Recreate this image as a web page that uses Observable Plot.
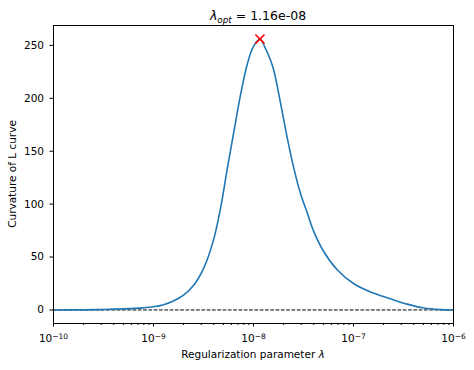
<!DOCTYPE html>
<html>
<head>
<meta charset="utf-8">
<script src="https://cdn.jsdelivr.net/npm/d3@7"></script>
<script src="https://cdn.jsdelivr.net/npm/@observablehq/plot@0.6"></script>
<style>
  html, body { margin: 0; padding: 0; background: #fff; }
  #chart svg { display: block; }
</style>
</head>
<body>
<div id="chart"></div>
<script>
// Regularization parameter λ
const lambdaValues = [1e-10, 2.0e-10, 3.16e-10, 5.0e-10, 7.9e-10, 1e-9, 1.26e-9, 1.58e-9,
  2.0e-9, 2.51e-9, 3.16e-9, 3.98e-9, 4.68e-9, 5.46e-9, 6.35e-9, 7.41e-9, 8.65e-9, 1e-8,
  1.16e-8, 1.32e-8, 1.48e-8, 1.6e-8, 1.86e-8, 2.17e-8, 2.53e-8, 2.95e-8, 3.44e-8, 4.01e-8,
  5.05e-8, 6.87e-8, 1e-7, 1.48e-7, 2.34e-7, 3.44e-7, 5.05e-7, 7.41e-7, 1e-6];
// Curvature of the L curve
const curvatureValues = [0, 0.1, 0.4, 1.0, 2.0, 3.0, 5, 8.5,
  14, 23, 39, 66, 96, 133, 168, 203, 232, 249,
  256, 247, 236, 226, 196, 163, 134, 110, 92, 74,
  55, 38, 25, 17, 10.5, 5.5, 1.8, 0.3, 0];
// optimum
const lambdaOpt = [1.16e-8];
const curvatureOpt = [256];
const titleValue = "1.16e-08";
// ticks
const xMajorTicks = [1e-10, 1e-9, 1e-8, 1e-7, 1e-6];
const xTickBase = "10";
const xTickExponents = ["−10", "−9", "−8", "−7", "−6"];
const yTicks = [0, 50, 100, 150, 200, 250];
const xLabel = "Regularization parameter ";
const yLabel = "Curvature of L curve";

const data = lambdaValues.map((l, i) => ({lambda: l, k: curvatureValues[i]}));
const opt = lambdaOpt.map((l, i) => ({lambda: l, k: curvatureOpt[i]}));
const xMinorTicks = [];
for (let d = -10; d < -6; d++) for (let m = 2; m <= 9; m++) xMinorTicks.push(m * Math.pow(10, d));

const chart = Plot.plot({
  width: 474, height: 370,
  marginLeft: 53, marginRight: 21, marginTop: 25, marginBottom: 47,
  style: {fontFamily: "'DejaVu Sans', sans-serif", fontSize: "10px", color: "#000", background: "#fff"},
  x: {type: "log", domain: [1e-10, 1e-6]},
  y: {domain: [-12.8, 268.8]},
  marks: [
    Plot.ruleY([0], {stroke: "#000", strokeWidth: 1, strokeDasharray: "3.7,1.6"}),
    Plot.line(data, {x: "lambda", y: "k", stroke: "#1f77b4", strokeWidth: 1.6, curve: "catmull-rom"}),
    Plot.dot(opt, {x: "lambda", y: "k", symbol: "times", stroke: "#ff0000", strokeWidth: 1.6, r: 4.2}),
    Plot.axisX({ticks: xMinorTicks, tickSize: 2, tickFormat: () => "", label: null, stroke: "#000", strokeOpacity: 1}),
    Plot.axisX({ticks: xMajorTicks, tickSize: 3.5, tickPadding: 8, label: null, stroke: "#000", strokeOpacity: 1,
      tickFormat: () => xTickBase, fontSize: 10.5}),
    Plot.axisY({ticks: yTicks, tickSize: 3.5, tickPadding: 6, label: null, stroke: "#000", strokeOpacity: 1, fontSize: 10.5}),
    Plot.frame({stroke: "#000", strokeWidth: 1})
  ]
});
document.getElementById("chart").appendChild(chart);

const svg = d3.select(chart);
// superscript exponents on x tick labels
svg.selectAll('g[aria-label="x-axis tick label"] text')
  .filter(function() { return this.textContent === xTickBase; })
  .each(function(d, i) {
    d3.select(this).append("tspan")
      .attr("font-size", 7.5).attr("dy", "-0.45em")
      .text(xTickExponents[i]);
  });

// title: three pieces placed side by side, centred near the axes' centre
const titleG = svg.append("g").attr("aria-label", "title");
const parts = [
  {text: "λ", size: 12.5, italic: true, dy: 0},
  {text: "opt", size: 8.8, italic: true, dy: 2.6},
  {text: " = " + titleValue, size: 12.5, italic: false, dy: 0}
];
const nodes = parts.map(p => titleG.append("text")
  .attr("x", 0).attr("y", 20 + p.dy)
  .attr("font-size", p.size)
  .attr("font-style", p.italic ? "italic" : "normal")
  .attr("fill", "#000")
  .style("text-anchor", "start")
  .text(p.text));
const widths = nodes.map(n => n.node().getComputedTextLength());
const total = widths.reduce((a, b) => a + b, 0);
let cx = 258 - total / 2;
nodes.forEach((n, i) => { n.attr("x", cx); cx += widths[i]; });

// x label
const xl = svg.append("text")
  .attr("x", 253).attr("y", 358).style("text-anchor", "middle")
  .attr("font-size", 10.5).attr("fill", "#000");
xl.append("tspan").text(xLabel);
xl.append("tspan").attr("font-style", "italic").text("λ");
// y label
svg.append("text")
  .attr("transform", "translate(16,174) rotate(-90)")
  .style("text-anchor", "middle")
  .attr("font-size", 10.5).attr("fill", "#000")
  .text(yLabel);
</script>
</body>
</html>
